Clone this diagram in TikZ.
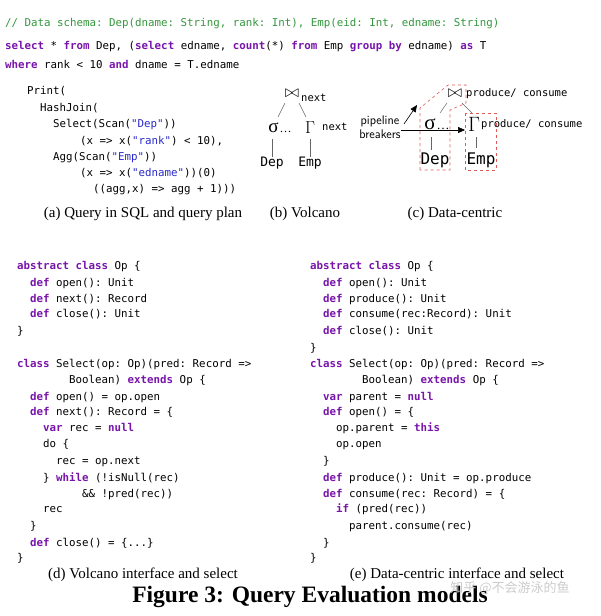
\documentclass[tikz,border=0pt]{standalone}
\usepackage{fontspec}
\setmainfont{Liberation Serif}
\setmonofont{DejaVu Sans Mono}
\newfontfamily\cjk{Noto Sans CJK SC}
\usetikzlibrary{arrows.meta}
\definecolor{kwc}{RGB}{120,20,170}
\definecolor{strc}{RGB}{40,40,200}
\definecolor{cmc}{RGB}{50,150,60}
\definecolor{redd}{RGB}{220,90,90}
\newcommand{\kw}[1]{\textbf{\color{kwc}#1}}
\newcommand{\st}[1]{{\color{strc}#1}}
\newcommand{\I}[1]{\hspace*{#1\dimexpr 0.602em\relax}}
\newcommand{\cl}[3]{\node[code] at (#1,#2) {#3};}
\tikzset{
  code/.style={anchor=base west,inner sep=0pt,font=\ttfamily\fontsize{10.8}{13}\selectfont},
  capt/.style={inner sep=0pt,font=\fontsize{15}{17}\selectfont},
  tree/.style={inner sep=1pt,font=\fontsize{19}{21}\selectfont},
  lbl/.style={inner sep=0pt,font=\ttfamily\fontsize{10.5}{12}\selectfont},
  ln/.style={draw=black!60,line width=0.5pt},
  redbox/.style={draw=redd,dashed,line width=0.6pt},
}
\begin{document}
\begin{tikzpicture}[x=1pt,y=-1pt]
\useasboundingbox (0,0) rectangle (600,616);
% (a)
\cl{5}{26}{\color{cmc}// Data schema: Dep(dname: String, rank: Int), Emp(eid: Int, edname: String)}
\cl{5}{49}{\kw{select} * \kw{from} Dep, (\kw{select} edname, \kw{count}(*) \kw{from} Emp \kw{group} \kw{by} edname) \kw{as} T}
\cl{5}{68}{\kw{where} rank < 10 \kw{and} dname = T.edname}
\cl{27}{94}{Print(}
\cl{40}{111}{HashJoin(}
\cl{53}{127}{Select(Scan(\st{"Dep"}))}
\cl{80}{144}{(x => x(\st{"rank"}) < 10),}
\cl{53}{160}{Agg(Scan(\st{"Emp"}))}
\cl{80}{176}{(x => x(\st{"edname"}))(0)}
\cl{93}{192}{((agg,x) => agg + 1)))}
\node[capt] (capa) at (143,214) {(a) Query in SQL and query plan};
% (b) Volcano
\node[tree] (bj) at (292,93) {$\bowtie$};
\node[lbl,anchor=west] (bjn) at (301,98) {next};
\node[tree] (bs) at (280,128) {σ\kern1pt{\fontsize{12}{12}\selectfont\dots}};
\node[tree] (bg) at (310,128) {$\Gamma$};
\node[lbl,anchor=west] (bgn) at (322,127) {next};
\node[lbl,font=\ttfamily\fontsize{13}{14}\selectfont] (bd) at (272,163) {Dep};
\node[lbl,font=\ttfamily\fontsize{13}{14}\selectfont] (be) at (310,163) {Emp};
\draw[ln] (285,103) -- (278,117);
\draw[ln] (299,103) -- (306,117);
\draw[ln] (272,139) -- (bd.north);
\draw[ln] (310,139) -- (be.north);
\node[capt] (capb) at (305,214) {(b) Volcano};
% (c) Data-centric
\draw[redbox] (420,170) -- (420,108) -- (448,85) -- (466,85) -- (466,103) -- (450,110) -- (450,170) -- cycle;
\draw[redbox] (465,113) rectangle (496,170);
\node[tree] (cj) at (455,93) {$\bowtie$};
\node[lbl,anchor=west] (cjn) at (466,94) {produce/ consume};
\node[tree,font=\fontsize{21}{22}\selectfont] (cs) at (437,124) {σ\kern1pt{\fontsize{13}{13}\selectfont\dots}};
\node[tree,font=\fontsize{20}{22}\selectfont] (cg) at (474,124) {$\Gamma$};
\node[lbl,anchor=west] (cgn) at (481,125) {produce/ consume};
\node[lbl,font=\ttfamily\fontsize{16}{17}\selectfont] (cd) at (435,160) {Dep};
\node[lbl,font=\ttfamily\fontsize{16}{17}\selectfont] (ce) at (481,160) {Emp};
\draw[ln] (447,103) -- (440,113);
\draw[ln] (462,103) -- (472,113);
\draw[ln] (431,137) -- (431,150);
\draw[ln] (476,137) -- (476,148);
\node[align=center,inner sep=0pt,font=\sffamily\fontsize{12.5}{13.5}\selectfont] (pb) at (380,127) {pipeline\\breakers};
\draw[-{Triangle[length=7pt,width=6pt]},line width=0.6pt] (404,124) -- (417,105);
\draw[-{Triangle[length=7pt,width=6pt]},line width=0.6pt] (pb.east |- 0,130) -- (465,130);
\node[capt] (capc) at (455,214) {(c) Data-centric};
% (d)
\cl{17}{269}{\kw{abstract} \kw{class} Op \{}
\cl{17}{286}{\I{2}\kw{def} open(): Unit}
\cl{17}{302}{\I{2}\kw{def} next(): Record}
\cl{17}{317}{\I{2}\kw{def} close(): Unit}
\cl{17}{334}{\}}
\cl{17}{367}{\kw{class} Select(op: Op)(pred: Record =>}
\cl{17}{383}{\I{8}Boolean) \kw{extends} Op \{}
\cl{17}{400}{\I{2}\kw{def} open() = op.open}
\cl{17}{415}{\I{2}\kw{def} next(): Record = \{}
\cl{17}{431}{\I{4}\kw{var} rec = \kw{null}}
\cl{17}{447}{\I{4}do \{}
\cl{17}{464}{\I{6}rec = op.next}
\cl{17}{481}{\I{4}\} \kw{while} (!isNull(rec)}
\cl{17}{497}{\I{10}\&\& !pred(rec))}
\cl{17}{512}{\I{4}rec}
\cl{17}{529}{\I{2}\}}
\cl{17}{546}{\I{2}\kw{def} close() = \{...\}}
\cl{17}{561}{\}}
\node[capt] (capd) at (143,575) {(d) Volcano interface and select};
% (e)
\cl{310}{269}{\kw{abstract} \kw{class} Op \{}
\cl{310}{286}{\I{2}\kw{def} open(): Unit}
\cl{310}{302}{\I{2}\kw{def} produce(): Unit}
\cl{310}{317}{\I{2}\kw{def} consume(rec:Record): Unit}
\cl{310}{334}{\I{2}\kw{def} close(): Unit}
\cl{310}{351}{\}}
\cl{310}{367}{\kw{class} Select(op: Op)(pred: Record =>}
\cl{310}{383}{\I{8}Boolean) \kw{extends} Op \{}
\cl{310}{400}{\I{2}\kw{var} parent = \kw{null}}
\cl{310}{415}{\I{2}\kw{def} open() = \{}
\cl{310}{431}{\I{4}op.parent = \kw{this}}
\cl{310}{447}{\I{4}op.open}
\cl{310}{464}{\I{2}\}}
\cl{310}{481}{\I{2}\kw{def} produce(): Unit = op.produce}
\cl{310}{497}{\I{2}\kw{def} consume(rec: Record) = \{}
\cl{310}{512}{\I{4}\kw{if} (pred(rec))}
\cl{310}{529}{\I{6}parent.consume(rec)}
\cl{310}{546}{\I{2}\}}
\cl{310}{561}{\}}
\node[capt] (cape) at (457,575) {(e) Data-centric interface and select};
\node[inner sep=0pt,font=\bfseries\fontsize{23.5}{26}\selectfont] (fig) at (310,597) {Figure 3: Query Evaluation models};
\node[inner sep=0pt,text=black!20,font=\cjk\fontsize{13}{15}\selectfont] (wm) at (510,588) {知乎 @不会游泳的鱼};
\end{tikzpicture}
\end{document}
